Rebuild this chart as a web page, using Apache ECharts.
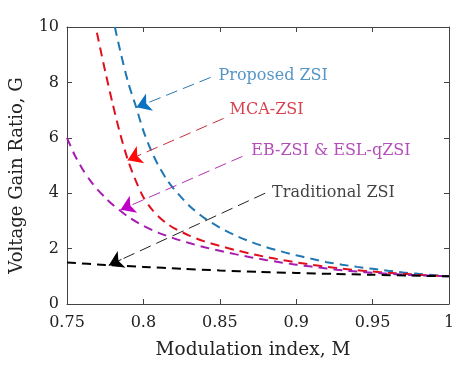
<!DOCTYPE html>
<html>
<head>
<meta charset="utf-8">
<script src="https://cdn.jsdelivr.net/npm/echarts@6/dist/echarts.min.js"></script>
<style>html,body{margin:0;padding:0;background:#fff}#c{width:474px;height:365px}</style>
</head>
<body>
<div id="c"></div>
<script>
// Modulation index M vs voltage gain ratio G
const proposedZSI = [[0.7813,10],[0.785,9.1],[0.79,8.0],[0.795,7.15],[0.80,6.25],[0.805,5.55],[0.81,4.98],[0.815,4.52],[0.82,4.15],[0.83,3.55],[0.84,3.10],[0.85,2.76],[0.86,2.48],[0.87,2.25],[0.88,2.06],[0.89,1.90],[0.90,1.76],[0.91,1.63],[0.92,1.51],[0.93,1.42],[0.94,1.34],[0.95,1.27],[0.96,1.20],[0.97,1.14],[0.98,1.09],[0.99,1.045],[1.0,1.0]];
const mcaZSI = [[0.7696,9.79],[0.775,8.4],[0.78,7.2],[0.785,6.1],[0.79,5.17],[0.795,4.45],[0.80,3.85],[0.805,3.45],[0.81,3.15],[0.815,2.92],[0.82,2.74],[0.83,2.47],[0.84,2.26],[0.85,2.10],[0.86,1.95],[0.87,1.82],[0.88,1.70],[0.89,1.60],[0.90,1.50],[0.91,1.42],[0.92,1.34],[0.93,1.28],[0.94,1.22],[0.95,1.17],[0.96,1.125],[0.97,1.09],[0.98,1.055],[0.99,1.025],[1.0,1.0]];
const ebZSI = [[0.75,6.0],[0.755,5.38],[0.76,4.88],[0.765,4.47],[0.77,4.13],[0.775,3.84],[0.78,3.58],[0.79,3.15],[0.80,2.82],[0.81,2.57],[0.82,2.37],[0.83,2.20],[0.84,2.05],[0.85,1.92],[0.86,1.80],[0.87,1.69],[0.88,1.59],[0.89,1.50],[0.90,1.42],[0.91,1.35],[0.92,1.28],[0.93,1.22],[0.94,1.17],[0.95,1.13],[0.96,1.09],[0.97,1.06],[0.98,1.035],[0.99,1.015],[1.0,1.0]];
const traditionalZSI = [[0.75,1.5],[0.775,1.41],[0.8,1.34],[0.825,1.27],[0.85,1.21],[0.875,1.16],[0.9,1.12],[0.925,1.085],[0.95,1.055],[0.975,1.025],[1.0,1.0]];
const xTickLabels = ['0.75','0.8','0.85','0.9','0.95','1'];
const yTickLabels = ['0','2','4','6','8','10'];
// annotations: label text, label anchor, dashed line start, arrow tip
const annLabels = ['Proposed ZSI','MCA-ZSI','EB-ZSI & ESL-qZSI','Traditional ZSI'];
const annLabelPos = [[0.8492,8.25],[0.8564,7.02],[0.8706,5.54],[0.8842,4.03]];
const annLineStart = [[0.844,8.18],[0.8525,6.70],[0.8648,5.33],[0.8797,4.0]];
const annArrowTip = [[0.7955,7.1],[0.7897,5.19],[0.7851,3.4],[0.7774,1.40]];

const curveColors = ['#1f78b4','#e0101e','#a61cb0','#000000'];
const textColors = ['#2a7bb5','#cc1122','#a020a8','#111111'];
const annLineColors = ['#2a78b0','#c0303c','#b030b0','#222222'];
const arrowColors = ['#0a72c0','#ff0a0a','#c000c8','#000000'];
const FONT = 'DejaVu Serif';

const chart = echarts.init(document.getElementById('c'), null, {renderer:'canvas'});
const fmtX = v => { const i = Math.round((v-0.75)/0.05); return xTickLabels[i] ?? ''; };
const fmtY = v => { const i = Math.round(v/2); return yTickLabels[i] ?? ''; };

const curveSeries = [proposedZSI, mcaZSI, ebZSI, traditionalZSI].map((d,i)=>({
  type:'line', data:d, showSymbol:false, smooth:0.25,
  lineStyle:{color:curveColors[i], width:2, type:[9,6]}, z:2, clip:true,
  markLine: {
    silent:true, animation:false,
    label:{show:false},
    lineStyle:{color:annLineColors[i], width:1, type:[12,6]},
    symbol:['none','none'],
    data:[[{coord:annLineStart[i]},{coord:annArrowTip[i]}]]
  }
}));
const arrowSeries = annArrowTip.map((tip,i)=>{
  const s = annLineStart[i];
  const p = [tip[0]+(s[0]-tip[0])*0.08, tip[1]+(s[1]-tip[1])*0.08];
  return {type:'line', data:[], markLine:{silent:true, animation:false, label:{show:false},
    symbol:['none','arrow'], symbolSize:14,
    lineStyle:{color:arrowColors[i], width:1, type:'solid'},
    data:[[{coord:p},{coord:tip}]]}};
});

chart.setOption({
  animation:false,
  grid:{left:63, right:25, top:27, bottom:53, containLabel:false},
  xAxis:[{
    type:'value', min:0.75, max:1, interval:0.05, position:'bottom',
    name:'Modulation index, M', nameLocation:'middle', nameGap:37,
    nameTextStyle:{fontFamily:FONT, fontSize:18.5, color:'#222', padding:[0,10,0,0]},
    axisLine:{show:true, onZero:false, lineStyle:{color:'#444', width:1}},
    axisTick:{show:true, inside:true, length:5, lineStyle:{color:'#444'}},
    axisLabel:{formatter:fmtX, fontFamily:FONT, fontSize:16, color:'#222', margin:11},
    splitLine:{show:false}
  },{
    type:'value', min:0.75, max:1, interval:0.05, position:'top',
    axisLine:{show:true, onZero:false, lineStyle:{color:'#444', width:1}},
    axisTick:{show:true, inside:true, length:5, lineStyle:{color:'#444'}},
    axisLabel:{show:false}, splitLine:{show:false}
  }],
  yAxis:[{
    type:'value', min:0, max:10, interval:2, position:'left',
    name:'Voltage Gain Ratio, G', nameLocation:'middle', nameGap:41,
    nameTextStyle:{fontFamily:FONT, fontSize:18, color:'#222', padding:[0,20,0,0]},
    axisLine:{show:true, onZero:false, lineStyle:{color:'#444', width:1}},
    axisTick:{show:true, inside:true, length:5, lineStyle:{color:'#444'}},
    axisLabel:{formatter:fmtY, fontFamily:FONT, fontSize:16, color:'#222', margin:8},
    splitLine:{show:false}
  },{
    type:'value', min:0, max:10, interval:2, position:'right',
    axisLine:{show:true, onZero:false, lineStyle:{color:'#444', width:1}},
    axisTick:{show:true, inside:true, length:5, lineStyle:{color:'#444'}},
    axisLabel:{show:false}, splitLine:{show:false}
  }],
  series:[...curveSeries, ...arrowSeries, {
    type:'scatter', symbolSize:0, z:5, silent:true,
    data: annLabelPos.map((p,i)=>({value:p, label:{show:true, position:'right', distance:0,
      formatter:annLabels[i], color:textColors[i], fontFamily:FONT, fontSize:16}}))
  }]
});
</script>
</body>
</html>
